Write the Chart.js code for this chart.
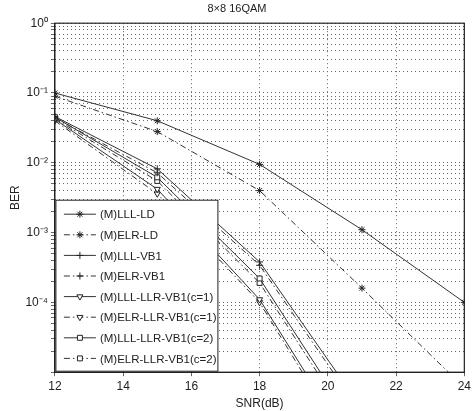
<!DOCTYPE html>
<html>
<head>
<meta charset="utf-8">
<script src="https://cdn.jsdelivr.net/npm/chart.js@4"></script>
<style>
html, body { margin: 0; padding: 0; background: #fff; }
#wrap { width: 474px; height: 411px; }
</style>
</head>
<body>
<div id="wrap"><canvas id="c" width="474" height="411"></canvas></div>
<script>
const snr = [12, 15, 18, 21, 24];
const lllLd = [0.1, 0.04, 0.0095, 0.0011, 0.0001];
const elrLd = [0.09, 0.028, 0.004, 0.00016, 0.000006];
const lllVb1 = [0.046, 0.0082, 0.00038, 0.000003, null];
const elrVb1 = [0.044, 0.0072, 0.00034, 0.0000025, null];
const lllLlr1 = [0.042, 0.0042, 0.00011, 0.0000005, null];
const elrLlr1 = [0.040, 0.0036, 0.0001, 0.0000004, null];
const lllLlr2 = [0.045, 0.0062, 0.00022, 0.0000012, null];
const elrLlr2 = [0.043, 0.0055, 0.00019, 0.000001, null];
const names = ['(M)LLL-LD', '(M)ELR-LD', '(M)LLL-VB1', '(M)ELR-VB1',
  '(M)LLL-LLR-VB1(c=1)', '(M)ELR-LLR-VB1(c=1)', '(M)LLL-LLR-VB1(c=2)', '(M)ELR-LLR-VB1(c=2)'];

const dashDot = [6, 3, 1.5, 3];
const series = [
  { data: lllLd, style: 'star', dash: [] },
  { data: elrLd, style: 'star', dash: dashDot },
  { data: lllVb1, style: 'cross', dash: [] },
  { data: elrVb1, style: 'cross', dash: dashDot },
  { data: lllLlr1, style: 'triangle', rot: 180, dash: [] },
  { data: elrLlr1, style: 'triangle', rot: 180, dash: dashDot },
  { data: lllLlr2, style: 'rect', dash: [] },
  { data: elrLlr2, style: 'rect', dash: dashDot },
];

const sup = { '-': '⁻', '0': '⁰', '1': '¹', '2': '²', '3': '³', '4': '⁴', '5': '⁵' };
const FONT = '"Liberation Sans", Arial, sans-serif';

const frameAndLegend = {
  id: 'frameAndLegend',
  afterDraw(chart) {
    const ctx = chart.ctx;
    const a = chart.chartArea;
    ctx.save();
    ctx.strokeStyle = '#222';
    ctx.lineWidth = 1.2;
    ctx.strokeRect(a.left, a.top, a.right - a.left, a.bottom - a.top);

    const x0 = a.left + 1, y0 = a.bottom - 172, w = 162, h = 171;
    ctx.fillStyle = '#fff';
    ctx.fillRect(x0, y0, w, h);
    ctx.lineWidth = 1;
    ctx.strokeRect(x0, y0, w, h);
    ctx.font = '11.5px ' + FONT;
    ctx.textBaseline = 'middle';
    series.forEach((s, i) => {
      const y = y0 + 14 + i * 20.6;
      ctx.strokeStyle = '#333';
      ctx.setLineDash(s.dash);
      ctx.beginPath();
      ctx.moveTo(x0 + 8, y);
      ctx.lineTo(x0 + 40, y);
      ctx.stroke();
      ctx.setLineDash([]);
      ctx.fillStyle = '#fff';
      ctx.strokeStyle = '#222';
      Chart.helpers.drawPoint(ctx, { pointStyle: s.style, radius: 3.5, rotation: s.rot || 0, borderWidth: 1 }, x0 + 24, y);
      ctx.fillStyle = '#222';
      ctx.fillText(names[i], x0 + 44, y + 1);
    });
    ctx.restore();
  }
};

new Chart(document.getElementById('c'), {
  type: 'line',
  data: {
    labels: snr,
    datasets: series.map((s, i) => ({
      label: names[i],
      data: snr.map((x, j) => ({ x: x, y: s.data[j] })),
      borderColor: '#333',
      backgroundColor: 'transparent',
      borderWidth: 1,
      borderDash: s.dash,
      pointStyle: s.style,
      pointRotation: s.rot || 0,
      pointRadius: 3.5,
      pointBorderColor: '#222',
      pointBorderWidth: 1,
      pointBackgroundColor: '#fff',
      tension: 0,
    })),
  },
  options: {
    responsive: false,
    animation: false,
    layout: { padding: { left: 8, right: 8, top: 0, bottom: 0 } },
    plugins: {
      legend: { display: false },
      tooltip: { enabled: false },
      title: {
        display: true,
        text: '8×8 16QAM',
        color: '#222',
        font: { size: 11, weight: 'normal', family: FONT },
        padding: { top: 2, bottom: 8 },
      },
    },
    scales: {
      x: {
        type: 'linear',
        min: 12,
        max: 24,
        ticks: { stepSize: 2, color: '#222', font: { size: 12, family: FONT } },
        grid: { color: '#666', tickLength: 4 },
        border: { color: '#222', width: 1, dash: [1, 3] },
        title: { display: true, text: 'SNR(dB)', color: '#222', padding: 0, font: { size: 12, family: FONT } },
      },
      y: {
        type: 'logarithmic',
        min: 1e-5,
        max: 1,
        ticks: {
          color: '#222',
          autoSkip: false,
          font: { size: 12, family: FONT },
          callback: (v) => {
            const e = Math.log10(v);
            if (Math.abs(e - Math.round(e)) > 1e-6 || Math.round(e) === -5) return '';
            return '10' + String(Math.round(e)).split('').map(c => sup[c]).join('');
          },
        },
        afterBuildTicks: (axis) => {
          const t = [];
          for (let e = -5; e < 0; e++) for (let m = 1; m < 10; m++) t.push({ value: m * Math.pow(10, e) });
          t.push({ value: 1 });
          axis.ticks = t;
        },
        grid: { color: '#666', tickLength: 4 },
        border: { color: '#222', width: 1, dash: [1, 3] },
        title: { display: true, text: 'BER', color: '#222', padding: 0, font: { size: 12, family: FONT } },
      },
    },
  },
  plugins: [frameAndLegend],
});
</script>
</body>
</html>
